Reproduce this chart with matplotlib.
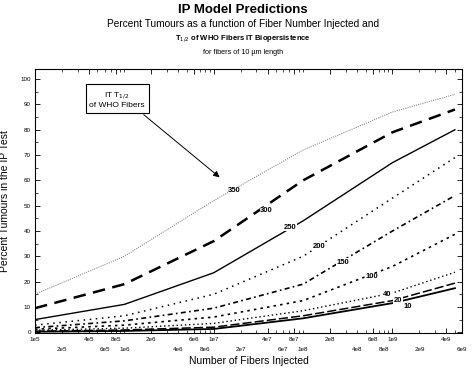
import numpy as np
import matplotlib.pyplot as plt
from matplotlib.ticker import FixedLocator, FixedFormatter, FuncFormatter, MultipleLocator

plt.rcParams['font.family'] = ['Liberation Sans', 'DejaVu Sans']

# number of fibers injected (x) where each curve was read
fibers = [1e5, 1e6, 1e7, 1e8, 1e9, 5e9]

# percent tumours for each IT T1/2 (days)
pct_350 = [15, 30, 52, 72, 87, 94]
pct_300 = [9.5, 19, 36, 60, 79, 88]
pct_250 = [5, 11, 23.5, 44, 67, 80]
pct_200 = [2.8, 6.5, 15, 30, 53, 69]
pct_150 = [1.8, 4.5, 9.5, 19, 40, 54]
pct_100 = [1.2, 2.8, 6, 12.5, 26, 38.7]
pct_40 = [0.8, 1.6, 3.5, 8.5, 15.5, 23.7]
pct_20 = [0.4, 0.9, 2.0, 6.5, 12.5, 19.4]
pct_10 = [0.2, 0.5, 1.3, 5.5, 11.5, 17.4]

curve_names = ['350', '300', '250', '200', '150', '100', '40', '20', '10']
curve_vals = [pct_350, pct_300, pct_250, pct_200, pct_150, pct_100, pct_40, pct_20, pct_10]

# where the curve labels sit
label_x = [1.7e7, 3.9e7, 7.1e7, 1.5e8, 2.8e8, 5.9e8, 8.7e8, 1.15e9, 1.5e9]
label_y = [56, 48, 41.5, 34, 27.7, 22, 15, 12.6, 10.3]

# x tick labels, staggered on two rows
xtick_row1 = ['1e5', '4e5', '8e5', '2e6', '6e6', '1e7', '4e7', '8e7', '2e8', '6e8', '1e9', '4e9']
xtick_row2 = ['2e5', '6e5', '1e6', '4e6', '8e6', '2e7', '6e7', '1e8', '4e8', '8e8', '2e9', '6e9']

styles = [
    dict(color='0.55', lw=0.8, ls=(0, (1, 1))),
    dict(color='k', lw=1.8, ls=(0, (5, 3))),
    dict(color='k', lw=1.0, ls='-'),
    dict(color='k', lw=1.1, ls=(0, (1, 3))),
    dict(color='k', lw=1.2, ls=(0, (3, 2, 1, 2))),
    dict(color='k', lw=1.2, ls=(0, (1.5, 2.5))),
    dict(color='k', lw=1.0, ls=(0, (1, 2))),
    dict(color='k', lw=1.1, ls=(0, (6, 2))),
    dict(color='k', lw=1.3, ls='-'),
]

fig = plt.figure(figsize=(4.74, 3.75), dpi=100)
ax = fig.add_axes([35 / 474, 1 - 333 / 375, 427 / 474, 264 / 375])

for vals, st in zip(curve_vals, styles):
    ax.plot(fibers, vals, **st)

for name, lx, ly in zip(curve_names, label_x, label_y):
    ax.text(lx, ly, name, fontsize=5.5, fontweight='bold', ha='center', va='center',
            bbox=dict(facecolor='white', edgecolor='none', pad=0.3))

ax.set_xscale('log')
ax.set_xlim(1e5, 6e9)
ax.set_ylim(-0.3, 104)

row1 = [float(s) for s in xtick_row1]
row2 = [float(s) for s in xtick_row2]
others = [m * 10.0 ** e for e in range(5, 10) for m in (3, 5, 7, 9) if m * 10.0 ** e <= 6e9]
ax.xaxis.set_major_locator(FixedLocator(row1))
ax.xaxis.set_major_formatter(FixedFormatter(xtick_row1))
ax.xaxis.set_minor_locator(FixedLocator(sorted(row2 + others)))
row2_lookup = {round(v): s for v, s in zip(row2, xtick_row2)}
ax.xaxis.set_minor_formatter(FuncFormatter(lambda v, p: row2_lookup.get(round(v), '')))
ax.yaxis.set_major_locator(MultipleLocator(10))
ax.yaxis.set_minor_locator(MultipleLocator(5))

ax.tick_params(which='both', direction='in', top=True, right=True, labelsize=4.5)
ax.tick_params(which='major', length=3.5, width=0.6, pad=3)
ax.tick_params(which='minor', length=2.2, width=0.5)
ax.tick_params(axis='x', which='minor', pad=10)
ax.tick_params(axis='y', which='minor', labelleft=False)
for s in ax.spines.values():
    s.set_linewidth(0.8)

ax.set_ylabel('Percent Tumours in the IP Test', fontsize=7.5)
ax.yaxis.set_label_coords(-0.058, 0.5)
ax.set_xlabel('Number of Fibers Injected', fontsize=7.5, labelpad=3)

ax.annotate('IT T$_{1/2}$\nof WHO Fibers', xy=(1.23e7, 60.5), xytext=(8.3e5, 92),
            fontsize=6, ha='center', va='center',
            bbox=dict(boxstyle='square,pad=0.45', facecolor='white', edgecolor='k', lw=0.8),
            arrowprops=dict(arrowstyle='-|>', color='k', lw=0.7, relpos=(0.85, 0),
                            mutation_scale=9))

fig.text(0.513, 0.974, 'IP Model Predictions', fontsize=9.5, fontweight='bold', ha='center', va='center')
fig.text(0.513, 0.936, 'Percent Tumours as a function of Fiber Number Injected and',
         fontsize=7.3, ha='center', va='center')
fig.text(0.513, 0.896, 'T$_{1/2}$ of WHO Fibers IT Biopersistence', fontsize=5.5,
         fontweight='bold', ha='center', va='center')
fig.text(0.513, 0.861, 'for fibers of 10 \u00b5m length', fontsize=5.2, ha='center', va='center')

fig.savefig('out.png', dpi=100)
